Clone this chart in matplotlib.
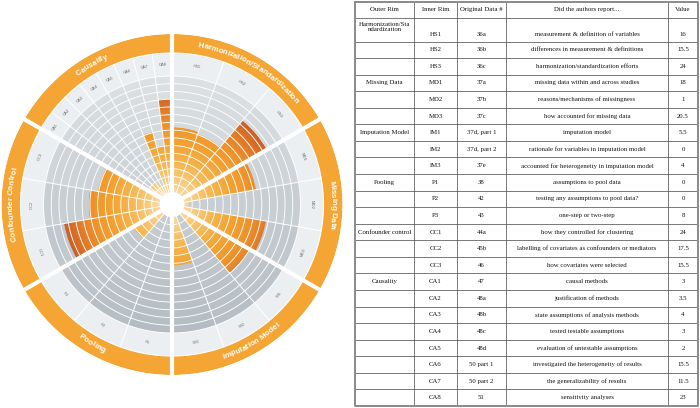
import numpy as np
import matplotlib
matplotlib.use("Agg")
import matplotlib.pyplot as plt
from matplotlib.colors import to_rgb
from matplotlib.font_manager import FontProperties, findfont
from matplotlib.ft2font import FT2Font

# ------------------------------------------------------------------ data
sectors = ["Harmonization/Standardization", "Missing Data", "Imputation Model",
           "Pooling", "Confounder Control", "Causality"]
sector_items = [["HS1", "HS2", "HS3"], ["MD1", "MD2", "MD3"], ["IM1", "IM2", "IM3"],
                ["P1", "P2", "P3"], ["CC1", "CC2", "CC3"],
                ["CA1", "CA2", "CA3", "CA4", "CA5", "CA6", "CA7", "CA8"]]
# bar lengths as drawn in the wheel
bar_values = [[16, 15.5, 24], [18, 1, 20.5], [19, 0, 12], [0, 0, 8],
              [24, 17.5, 15.5], [3, 3.5, 4, 3, 2, 15.5, 11.5, 23]]

table_header = ["Outer Rim", "Inner Rim", "Original Data #", "Did the authors report...", "Value"]
table_outer = ["Harmonization/Sta\nndardization", "", "", "Missing Data", "", "",
               "Imputation Model", "", "", "Pooling", "", "", "Confounder control", "", "",
               "Causality", "", "", "", "", "", "", ""]
table_inner = ["HS1", "HS2", "HS3", "MD1", "MD2", "MD3", "IM1", "IM2", "IM3", "P1", "P2", "P3",
               "CC1", "CC2", "CC3", "CA1", "CA2", "CA3", "CA4", "CA5", "CA6", "CA7", "CA8"]
table_orig = ["36a", "36b", "36c", "37a", "37b", "37c", "37d, part 1", "37d, part 2", "37e",
              "38", "42", "43", "44a", "45b", "46", "47", "48a", "48b", "48c", "48d",
              "50 part 1", "50 part 2", "51"]
table_desc = ["measurement & definition of variables",
              "differences in measurement & definitions",
              "harmonization/standardization efforts",
              "missing data within and across studies",
              "reasons/mechanisms of missingness",
              "how accounted for missing data",
              "imputation model",
              "rationale for variables in imputation model",
              "accounted for heterogeneity in imputation model",
              "assumptions to pool data",
              "testing any assumptions to pool data?",
              "one-step or two-step",
              "how they controlled for clustering",
              "labelling of covariates as confounders or mediators",
              "how covariates were selected",
              "causal methods",
              "justification of methods",
              "state assumptions of analysis methods",
              "tested testable assumptions",
              "evaluation of untestable assumptions",
              "investigated the heterogeneity of results",
              "the generalizability of results",
              "sensitivity analyses"]
table_value = ["16", "15.5", "24", "18", "1", "20.5", "5.5", "0", "4", "0", "0", "8",
               "24", "17.5", "15.5", "3", "3.5", "4", "3", "2", "15.5", "11.5", "23"]

# ------------------------------------------------------------------ style
ORANGE = "#f4a534"
LABEL_RING = "#eceff1"
GREY_TOP, GREY_BOT = "#dde1e4", "#b3bcc2"
orange_stops_v = [0, 4, 8, 12, 16, 19, 22, 25, 28.75]
orange_stops_c = ["#fbd9a0", "#f8c571", "#f5b24a", "#f2a233", "#ee952c",
                  "#e7842a", "#d86e27", "#c25726", "#b04a22"]

VMAX = 28.75
N_RINGS = 15
R_ORIGIN = -3.1
R_LABEL = 34.45
R_OUT = 39.16

W, H = 700, 408
CX, CY, RPX = 172, 204.5, 170.5
PX_PER_UNIT = RPX / (R_OUT - R_ORIGIN)


def interp_color(v, vs, cs):
    rgb = np.array([to_rgb(c) for c in cs])
    return tuple(float(np.interp(v, vs, rgb[:, k])) for k in range(3))


fig = plt.figure(figsize=(W / 100, H / 100), dpi=100)

# ------------------------------------------------------------------ table
ax_t = fig.add_axes([0, 0, 1, 1])
ax_t.set_xlim(0, W)
ax_t.set_ylim(H, 0)
ax_t.axis("off")

col_x = [355, 414, 457, 506, 668, 698]
t_top, t_bot = 2, 406
header_h, first_h = 15.5, 24
row_edges = [t_top, t_top + header_h, t_top + header_h + first_h]
rest_h = (t_bot - row_edges[-1]) / (len(table_inner) - 1)
for i in range(len(table_inner) - 1):
    row_edges.append(row_edges[-1] + rest_h)

line_c = "#555555"
for y in row_edges[1:-1]:
    ax_t.plot([col_x[0], col_x[-1]], [y, y], color=line_c, lw=0.55)
for x in col_x[1:-1]:
    ax_t.plot([x, x], [t_top, t_bot], color=line_c, lw=0.55)
ax_t.plot([col_x[0], col_x[-1], col_x[-1], col_x[0], col_x[0]],
          [t_top, t_top, t_bot, t_bot, t_top], color="#8a8a8a", lw=1.4)

serif = "Liberation Serif"
fs_t = 4.9
centers = [(col_x[i] + col_x[i + 1]) / 2 for i in range(5)]
for c, txt in zip(centers, table_header):
    ax_t.text(c, (row_edges[0] + row_edges[1]) / 2, txt, ha="center", va="center",
              fontsize=fs_t, family=serif, color="#111111")
for i in range(len(table_inner)):
    y0, y1 = row_edges[i + 1], row_edges[i + 2]
    if i == 0:
        ym, yo = y0 + 16.5, y0 + 9.3
    else:
        ym = yo = (y0 + y1) / 2
    row = [table_outer[i], table_inner[i], table_orig[i], table_desc[i], table_value[i]]
    for k, (c, txt) in enumerate(zip(centers, row)):
        ax_t.text(c, yo if k == 0 else ym, txt, ha="center", va="center",
                  fontsize=fs_t, family=serif, color="#111111", linespacing=1.05)

# ------------------------------------------------------------------ wheel
ax = fig.add_axes([(CX - RPX) / W, (H - CY - RPX) / H, 2 * RPX / W, 2 * RPX / H],
                  projection="polar")
ax.set_theta_zero_location("N")
ax.set_theta_direction(-1)
ax.set_rorigin(R_ORIGIN)
ax.set_ylim(0, R_OUT)
ax.set_axis_off()

item_bear, item_w, item_v, item_lab, item_bounds = [], [], [], [], []
for s, (its, vals) in enumerate(zip(sector_items, bar_values)):
    w = 60.0 / len(its)
    for j, (lab, v) in enumerate(zip(its, vals)):
        item_bear.append(s * 60 + (j + 0.5) * w)
        item_w.append(w)
        item_v.append(v)
        item_lab.append(lab)
        if j > 0:
            item_bounds.append(s * 60 + j * w)

edges = np.linspace(0, VMAX, 58)
OVL = 0.3
th, bt, ht, wd, col = [], [], [], [], []
for b, w, v in zip(item_bear, item_w, item_v):
    tb = np.deg2rad(b)
    for lo, hi in zip(edges[:-1], edges[1:]):
        mid = (lo + hi) / 2
        ypx = (mid - R_ORIGIN) * PX_PER_UNIT * np.cos(tb)
        t = np.clip((ypx + 128.5) / 257.0, 0, 1)
        th.append(tb); bt.append(lo); ht.append(hi - lo + OVL); wd.append(np.deg2rad(w) * 1.01)
        col.append(interp_color(t, [0, 1], [GREY_BOT, GREY_TOP]))
for b, w, v in zip(item_bear, item_w, item_v):
    tb = np.deg2rad(b)
    if v > 0:
        e = list(edges[edges < v]) + [v]
        for lo, hi in zip(e[:-1], e[1:]):
            th.append(tb); bt.append(lo)
            ht.append(min(hi - lo + OVL, v - lo)); wd.append(np.deg2rad(w))
            col.append(interp_color((lo + hi) / 2, orange_stops_v, orange_stops_c))
ax.bar(th, ht, width=wd, bottom=bt, color=col, linewidth=0, align="center")

# label ring and outer ring
ax.bar(np.deg2rad(item_bear), R_LABEL - VMAX, width=np.deg2rad(item_w), bottom=VMAX,
       color=LABEL_RING, linewidth=0)
ax.bar(np.deg2rad(np.arange(6) * 60 + 30), R_OUT - R_LABEL, width=np.deg2rad(60),
       bottom=R_LABEL, color=ORANGE, linewidth=0)

circ = np.linspace(0, 2 * np.pi, 721)
for k in range(1, N_RINGS + 1):
    ax.plot(circ, np.full_like(circ, k * VMAX / N_RINGS), color="white", lw=0.65)
ax.plot(circ, np.full_like(circ, R_LABEL), color="white", lw=0.8)
for b in item_bounds:
    ax.plot([np.deg2rad(b)] * 2, [0, R_LABEL], color="white", lw=0.7)
for s in range(6):
    ax.plot([np.deg2rad(s * 60)] * 2, [0, R_OUT], color="white", lw=3.0)


def flipped(bear):
    return 95 < (bear % 360) < 265


# item labels
r_lab = (VMAX + R_LABEL) / 2
for b, lab in zip(item_bear, item_lab):
    rot = (180 - b) if flipped(b) else -b
    ax.text(np.deg2rad(b), r_lab, lab, rotation=rot, rotation_mode="anchor",
            ha="center", va="center", fontsize=3.0, color="#6a6a6a",
            family="Liberation Sans")

# curved sector titles
TITLE_FS = 5.7
fp = FontProperties(family="Liberation Sans", weight="bold", size=TITLE_FS)
ft = FT2Font(findfont(fp))
ft.set_size(TITLE_FS, 100)


def advance(ch):
    g = ft.load_char(ord(ch))
    return g.linearHoriAdvance / 65536.0


r_title = (R_LABEL + R_OUT) / 2
r_title_px = (r_title - R_ORIGIN) * PX_PER_UNIT
for s, name in enumerate(sectors):
    mid = s * 60 + 30
    flip = flipped(mid)
    adv = [advance(ch) for ch in name]
    total = sum(adv)
    pos = np.cumsum([0] + adv[:-1]) + np.array(adv) / 2 - total / 2
    for ch, cpos in zip(name, pos):
        if ch == " ":
            continue
        off = np.rad2deg(cpos / r_title_px)
        bear = mid - off if flip else mid + off
        rot = (180 - bear) if flip else -bear
        ax.text(np.deg2rad(bear), r_title, ch, rotation=rot, rotation_mode="anchor",
                ha="center", va="center", fontproperties=fp, color="white")

fig.savefig("out.png", dpi=100)
